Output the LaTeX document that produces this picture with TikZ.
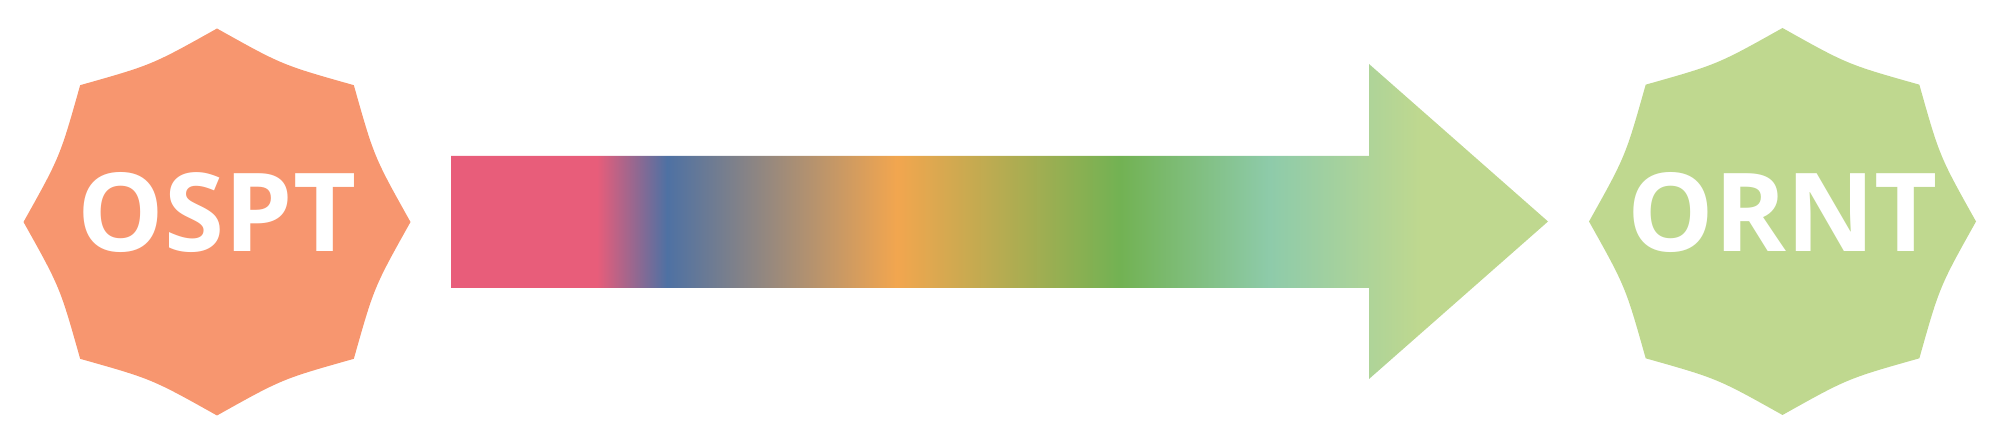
\documentclass[tikz,border=0pt]{standalone}
\usepackage{fontspec}
\setmainfont{Open Sans}
\usetikzlibrary{positioning}

\definecolor{osptorange}{HTML}{F7966F}
\definecolor{orntgreen}{HTML}{BFD88F}
\definecolor{arrowpink}{HTML}{E85D7A}
\definecolor{arrowblue}{HTML}{4E71A3}
\definecolor{arroworange}{HTML}{F2A64F}
\definecolor{arrowgreen}{HTML}{72B253}
\definecolor{arrowteal}{HTML}{8ECBAA}

% colour run along the arrow (arrow box = 25bp .. 75bp)
\pgfdeclarehorizontalshading{spectrum}{100bp}{%
  color(0bp)=(arrowpink); color(25bp)=(arrowpink); color(31.65bp)=(arrowpink);
  color(34.85bp)=(arrowblue); color(45.33bp)=(arroworange);
  color(55.49bp)=(arrowgreen); color(62.33bp)=(arrowteal);
  color(69.2bp)=(orntgreen); color(75bp)=(orntgreen); color(100bp)=(orntgreen)}

\tikzset{
  badge/.pic={
    \fill[pic actions] (0:193.5)
      \foreach \a in {45,90,...,360}{ .. controls (\a-22.5:170) .. (\a:193.5)} -- cycle;
  },
  badgetext/.style={text=white, inner sep=0pt,
    font=\fontsize{31}{31}\selectfont\bfseries}
}

\begin{document}
\begin{tikzpicture}[x=0.01cm, y=-0.01cm]
  \useasboundingbox (0,0) rectangle (2000,440);

  % Badges
  \pic[fill=osptorange] (osptbadge) at (217,222) {badge};
  \pic[fill=orntgreen] (orntbadge) at (1782.5,221.5) {badge};
  \node[badgetext] (ospt) at (217,213) {OSPT};
  \node[badgetext] (ornt) at (1782.5,213) {ORNT};

  % Block arrow
  \shade[shading=spectrum]
    (451,156) -- (1369,156) -- (1369,64) -- (1548,221.5)
    -- (1369,379) -- (1369,288) -- (451,288) -- cycle;
\end{tikzpicture}
\end{document}
